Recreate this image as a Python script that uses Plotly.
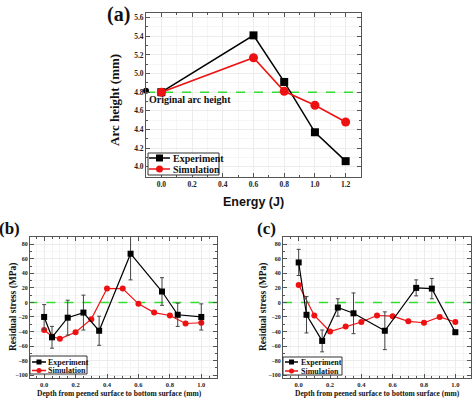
import plotly.graph_objects as go

# ---- data: panel (a)
energy = [0.0, 0.6, 0.8, 1.0, 1.2]
arc_exp = [4.80, 5.41, 4.91, 4.37, 4.06]
arc_sim = [4.80, 5.17, 4.81, 4.66, 4.48]
arc_original = 4.8

# ---- data: panel (b)
b_exp_x = [0.0, 0.05, 0.15, 0.25, 0.35, 0.55, 0.75, 0.85, 1.0]
b_exp_y = [-20, -48, -21, -14, -39, 67, 15, -17, -20]
b_exp_err = [17, 15, 24, 24, 20, 36, 19, 16, 18]
b_sim_x = [0.0, 0.05, 0.1, 0.2, 0.3, 0.4, 0.5, 0.6, 0.7, 0.8, 0.9, 1.0]
b_sim_y = [-38, -47, -50, -41, -23, 19, 19, -2, -14, -18, -29, -28]

# ---- data: panel (c)
c_exp_x = [0.0, 0.05, 0.15, 0.25, 0.35, 0.55, 0.75, 0.85, 1.0]
c_exp_y = [55, -17, -53, -7, -15, -39, 20, 19, -41]
c_exp_err = [18, 25, 15, 12, 28, 26, 11, 14, 2]
c_sim_x = [0.0, 0.1, 0.2, 0.3, 0.4, 0.5, 0.6, 0.7, 0.8, 0.9, 1.0]
c_sim_y = [24, -18, -40, -33, -27, -18, -19, -26, -28, -20, -27]

series_names = ["Experiment", "Simulation"]

W, H = 474, 398
def px(x): return x / W
def py(y): return 1 - y / H

SERIF = "Liberation Serif"
SANS = "Liberation Sans"
GREEN = "#33dd33"
RED = "#ee1111"

fig = go.Figure()

# panel a
fig.add_trace(go.Scatter(x=[-0.1, 1.3], y=[arc_original]*2, mode="lines",
                         line=dict(color=GREEN, dash="dash", width=1.5),
                         xaxis="x", yaxis="y", hoverinfo="skip"))
fig.add_trace(go.Scatter(x=[-0.1], y=[4.815], mode="markers", cliponaxis=False,
                         marker=dict(color="black", size=6, symbol="circle"),
                         xaxis="x", yaxis="y"))
fig.add_trace(go.Scatter(x=energy, y=arc_exp, name=series_names[0], mode="lines+markers",
                         line=dict(color="black", width=1.5),
                         marker=dict(symbol="square", size=8, color="black"),
                         xaxis="x", yaxis="y"))
fig.add_trace(go.Scatter(x=energy, y=arc_sim, name=series_names[1], mode="lines+markers",
                         line=dict(color=RED, width=1.5),
                         marker=dict(symbol="circle", size=9, color=RED),
                         xaxis="x", yaxis="y"))

def stress_panel(xa, ya, ex, ey, ee, sx, sy):
    fig.add_trace(go.Scatter(x=[-0.1, 1.2], y=[0, 0], mode="lines",
                             line=dict(color=GREEN, dash="dash", width=1.5),
                             xaxis=xa, yaxis=ya, hoverinfo="skip", cliponaxis=False))
    fig.add_trace(go.Scatter(x=sx, y=sy, name=series_names[1], mode="lines+markers",
                             line=dict(color=RED, width=1.2),
                             marker=dict(symbol="circle", size=6, color=RED),
                             xaxis=xa, yaxis=ya))
    fig.add_trace(go.Scatter(x=ex, y=ey, name=series_names[0], mode="lines+markers",
                             line=dict(color="black", width=1.2),
                             marker=dict(symbol="square", size=6, color="black"),
                             error_y=dict(type="data", array=ee, color="#444",
                                          thickness=1, width=2),
                             xaxis=xa, yaxis=ya))

stress_panel("x2", "y2", b_exp_x, b_exp_y, b_exp_err, b_sim_x, b_sim_y)
stress_panel("x3", "y3", c_exp_x, c_exp_y, c_exp_err, c_sim_x, c_sim_y)

def ax_common(tsize):
    return dict(showline=True, linecolor="#555", linewidth=1, mirror="ticks",
                ticks="inside", ticklen=4, tickcolor="#555", zeroline=False,
                automargin=False,
                showgrid=True, gridcolor="#ececec", gridwidth=1,
                minor=dict(ticks="inside", ticklen=2, tickcolor="#555",
                           showgrid=True, gridcolor="#f5f5f5"),
                tickfont=dict(family=SERIF, size=tsize, color="#222", weight="bold"))

fig.update_layout(
    width=W, height=H, margin=dict(l=0, r=0, t=0, b=0, autoexpand=False),
    paper_bgcolor="white", plot_bgcolor="white", showlegend=False,
    xaxis=dict(domain=[px(146), px(361)], anchor="y", range=[-0.1, 1.3],
               tickvals=[0, 0.2, 0.4, 0.6, 0.8, 1.0, 1.2], tickformat=".1f",
               **ax_common(7.5)),
    yaxis=dict(domain=[py(177), py(13)], anchor="x", range=[3.89, 5.65],
               tickvals=[4.0, 4.2, 4.4, 4.6, 4.8, 5.0, 5.2, 5.4, 5.6], tickformat=".1f",
               **ax_common(7.5)),
    xaxis2=dict(domain=[px(30), px(217)], anchor="y2", range=[-0.09, 1.1],
                tickvals=[0, 0.2, 0.4, 0.6, 0.8, 1.0], tickformat=".1f",
                **ax_common(6.5)),
    yaxis2=dict(domain=[py(378), py(237)], anchor="x2", range=[-104, 90],
                tickvals=list(range(-100, 81, 20)), **ax_common(6)),
    xaxis3=dict(domain=[px(283), px(471)], anchor="y3", range=[-0.1, 1.1],
                tickvals=[0, 0.2, 0.4, 0.6, 0.8, 1.0], tickformat=".1f",
                **ax_common(6.5)),
    yaxis3=dict(domain=[py(378), py(237)], anchor="x3", range=[-104, 90],
                tickvals=list(range(-100, 81, 20)), **ax_common(6)),
)

# ---- hand-drawn legends (compact, like the original figure)
def draw_legend(box, rows_y, line_x, text_x, msize, fsize):
    x0, y0, x1, y1 = box
    fig.add_shape(type="rect", xref="paper", yref="paper",
                  x0=px(x0), x1=px(x1), y0=py(y1), y1=py(y0),
                  line=dict(color="#333", width=1), fillcolor="white", layer="above")
    for name, ry, color, sym in zip(series_names, rows_y, ["black", RED], ["rect", "circle"]):
        fig.add_shape(type="line", xref="paper", yref="paper",
                      x0=px(line_x[0]), x1=px(line_x[1]), y0=py(ry), y1=py(ry),
                      line=dict(color=color, width=1.5), layer="above")
        mx = (line_x[0] + line_x[1]) / 2
        r = msize / 2
        fig.add_shape(type=sym, xref="paper", yref="paper",
                      x0=px(mx - r), x1=px(mx + r), y0=py(ry + r), y1=py(ry - r),
                      line=dict(color=color, width=0), fillcolor=color, layer="above")
        fig.add_annotation(text=name, x=px(text_x), y=py(ry), xref="paper", yref="paper",
                           xanchor="left", yanchor="middle", showarrow=False,
                           font=dict(family=SERIF, size=fsize, color="#111", weight="bold"))

draw_legend((148, 153, 219, 175), (158, 169), (149, 170), 171, 7, 10)
draw_legend((30, 356, 87, 374), (362, 370.5), (32, 46), 46, 5, 8)
draw_legend((283, 357, 342, 375), (362, 371), (285, 298), 299, 5, 8)

ann = [
    dict(text="(a)", x=px(118), y=py(15), font=dict(family=SERIF, size=20, weight="bold")),
    dict(text="(b)", x=px(9), y=py(228), font=dict(family=SERIF, size=17, weight="bold")),
    dict(text="(c)", x=px(266), y=py(228), font=dict(family=SERIF, size=17, weight="bold")),
    dict(text="Arc height (mm)", x=px(115), y=py(100), textangle=-90,
         font=dict(family=SERIF, size=13, weight="bold")),
    dict(text="Energy (J)", x=px(253), y=py(202), font=dict(family=SANS, size=12.5, weight="bold")),
    dict(text="Original arc height", x=px(190), y=py(100),
         font=dict(family=SERIF, size=10, weight="bold")),
    dict(text="Residual stress (MPa)", x=px(13), y=py(307), textangle=-90,
         font=dict(family=SERIF, size=9.5, weight="bold")),
    dict(text="Residual stress (MPa)", x=px(263), y=py(307), textangle=-90,
         font=dict(family=SERIF, size=9.5, weight="bold")),
    dict(text="Depth from peened surface to bottom surface (mm)", x=px(119), y=py(393),
         font=dict(family=SERIF, size=7.5, weight="bold")),
    dict(text="Depth from peened surface to bottom surface (mm)", x=px(377), y=py(393),
         font=dict(family=SERIF, size=7.5, weight="bold")),
]
for a in ann:
    a.update(xref="paper", yref="paper", showarrow=False, xanchor="center", yanchor="middle")
    a["font"].setdefault("color", "#111")
    fig.add_annotation(**a)

# the page's default 8px body margin would shift the 474x398 figure; remove it
fig.write_html("out.html", config={"displayModeBar": False},
               post_script="document.body.style.margin='0';document.body.style.overflow='hidden';")
